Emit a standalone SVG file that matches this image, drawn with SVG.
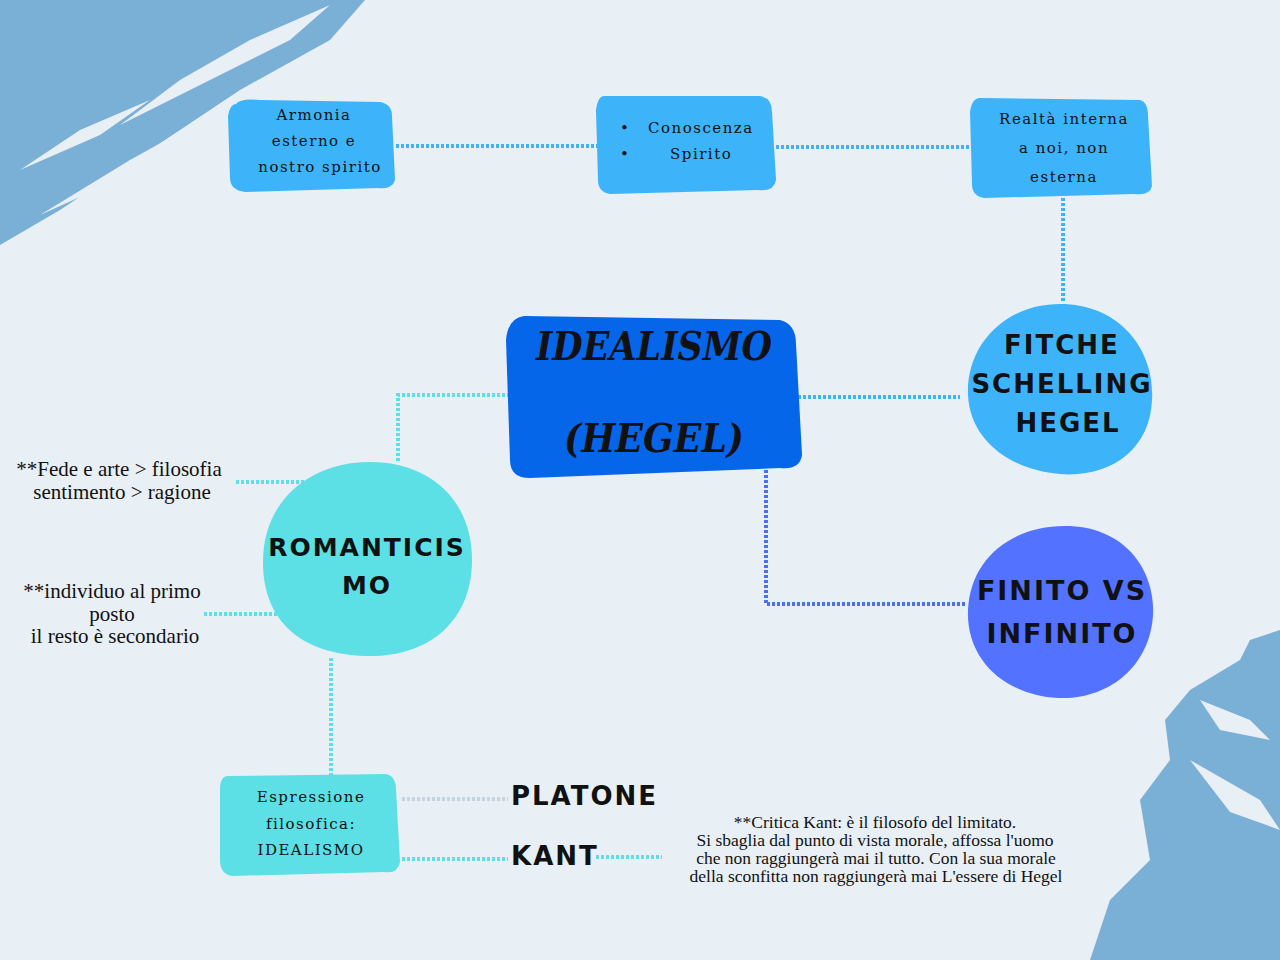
<svg xmlns="http://www.w3.org/2000/svg" width="1280" height="960" viewBox="0 0 1280 960">
<style>
.c{fill:none;stroke-width:4;stroke-dasharray:3 2}
.s{font-family:"Liberation Serif",serif;fill:#111}
.w{font-family:"DejaVu Serif",serif;font-size:15px;letter-spacing:1.5px;fill:#111}
.h{font-family:"DejaVu Sans",sans-serif;font-weight:bold;letter-spacing:2px;fill:#111}
</style>
<rect width="1280" height="960" fill="#e8eff5"/>
<g fill="#7aafd6">
<path d="M0 0H365L330 40 240 90 150 150 60 210 0 245Z"/>
<path d="M1280 630L1250 640 1240 660 1190 690 1165 720 1170 760 1140 800 1150 860 1110 900 1090 960H1280Z"/>
</g>
<g fill="#e8eff5">
<path d="M250 40L330 5 290 40 200 85 120 125 180 80Z"/>
<path d="M220 110L300 70 250 110 140 170 40 215 130 160Z"/>
<path d="M80 130L150 100 100 135 20 170Z"/>
<path d="M1190 760L1260 800 1280 830 1230 812Z"/>
<path d="M1200 700L1250 720 1270 740 1220 730Z"/>
</g>
<g id="connectors">
<path class="c" stroke="#3db4f9" d="M396 146H598M776 147H972M1063 198V302M798 397H960"/>
<path class="c" stroke="#5ce0e6" d="M510 395H398V462M236 482H318M204 614H282M331 658V776M402 859H508M596 857H662"/>
<path class="c" stroke="#4a6ff0" d="M766 470V604H966"/>
<path class="c" stroke="#c8d3dd" d="M402 799H508"/>
</g>
<g id="armonia"><path d="M236 104Q240 98 260 100L380 102Q392 104 392 116L395 180Q392 190 378 188L245 192Q230 190 230 178L228 116Q230 104 236 104Z" fill="#3db4f9"/>
<text class="w" text-anchor="middle"><tspan x="314" y="120">Armonia</tspan><tspan x="314" y="146">esterno e</tspan><tspan x="320" y="172">nostro spirito</tspan></text></g>
<g id="conoscenza"><path d="M604 96L760 96Q772 98 772 112L776 180Q774 192 758 190L610 194Q598 192 598 180L596 110Q598 96 604 96Z" fill="#3db4f9"/>
<text class="w"><tspan x="620" y="133">•</tspan><tspan x="648" y="133">Conoscenza</tspan><tspan x="620" y="159">•</tspan><tspan x="670" y="159">Spirito</tspan></text></g>
<g id="realta"><path d="M980 98L1140 100Q1148 102 1148 116L1152 186Q1150 196 1134 194L984 198Q972 196 972 184L970 112Q972 98 980 98Z" fill="#3db4f9"/>
<text class="w" text-anchor="middle"><tspan x="1064" y="124">Realtà interna</tspan><tspan x="1064" y="153">a noi, non</tspan><tspan x="1064" y="182">esterna</tspan></text></g>
<g id="idealismo"><path d="M524 316L780 320Q796 324 796 344L802 455Q800 470 780 468L530 478Q510 478 510 460L506 340Q508 318 524 316Z" fill="#0566ea"/>
<text font-family="DejaVu Serif,serif" font-style="italic" font-weight="bold" font-size="40" fill="#111"><tspan x="536" y="360" textLength="236" lengthAdjust="spacingAndGlyphs">IDEALISMO</tspan><tspan x="564" y="452" textLength="180" lengthAdjust="spacingAndGlyphs">(HEGEL)</tspan></text></g>
<g id="fitche"><path d="M1060 304C1120 304 1155 350 1152 400C1150 450 1110 478 1060 474C1010 470 970 440 968 395C966 345 1005 304 1060 304Z" fill="#3db4f9"/>
<text class="h" font-size="26" text-anchor="middle"><tspan x="1062" y="354">FITCHE</tspan><tspan x="1062" y="393">SCHELLING</tspan><tspan x="1068" y="432">HEGEL</tspan></text></g>
<g id="finito"><path d="M1065 526C1125 526 1155 570 1153 615C1150 665 1110 700 1058 698C1005 695 966 660 968 610C970 560 1010 526 1065 526Z" fill="#5272ff"/>
<text class="h" font-size="27" text-anchor="middle"><tspan x="1062" y="600">FINITO VS</tspan><tspan x="1062" y="643">INFINITO</tspan></text></g>
<g id="romanticismo"><path d="M370 462C430 462 472 500 472 560C472 620 430 658 365 656C300 654 262 620 263 560C264 500 310 462 370 462Z" fill="#5ce0e6"/>
<text class="h" font-size="25" text-anchor="middle"><tspan x="367" y="556">ROMANTICIS</tspan><tspan x="367" y="594">MO</tspan></text></g>
<g id="espressione"><path d="M228 776L386 774Q396 776 396 790L400 862Q398 874 384 872L232 876Q220 874 220 860L220 790Q220 776 228 776Z" fill="#5ce0e6"/>
<text class="w" text-anchor="middle"><tspan x="311" y="802">Espressione</tspan><tspan x="311" y="829">filosofica:</tspan><tspan x="311" y="855">IDEALISMO</tspan></text></g>
<g id="platone"><text class="h" font-size="26" x="511" y="805">PLATONE</text></g>
<g id="kant"><text class="h" font-size="26" x="511" y="865">KANT</text></g>
<g id="notes" class="s" font-size="21" text-anchor="middle">
<text><tspan x="119" y="476">**Fede e arte &gt; filosofia</tspan><tspan x="122" y="499">sentimento &gt; ragione</tspan></text>
<text><tspan x="112" y="598">**individuo al primo</tspan><tspan x="112" y="621">posto</tspan><tspan x="115" y="643">il resto è secondario</tspan></text>
<text font-size="17.5"><tspan x="875" y="828">**Critica Kant: è il filosofo del limitato.</tspan><tspan x="875" y="846">Si sbaglia  dal punto di vista  morale, affossa l'uomo</tspan><tspan x="876" y="864">che non raggiungerà mai il tutto. Con la  sua morale</tspan><tspan x="876" y="882">della  sconfitta non raggiungerà mai L'essere di Hegel</tspan></text>
</g>
</svg>
